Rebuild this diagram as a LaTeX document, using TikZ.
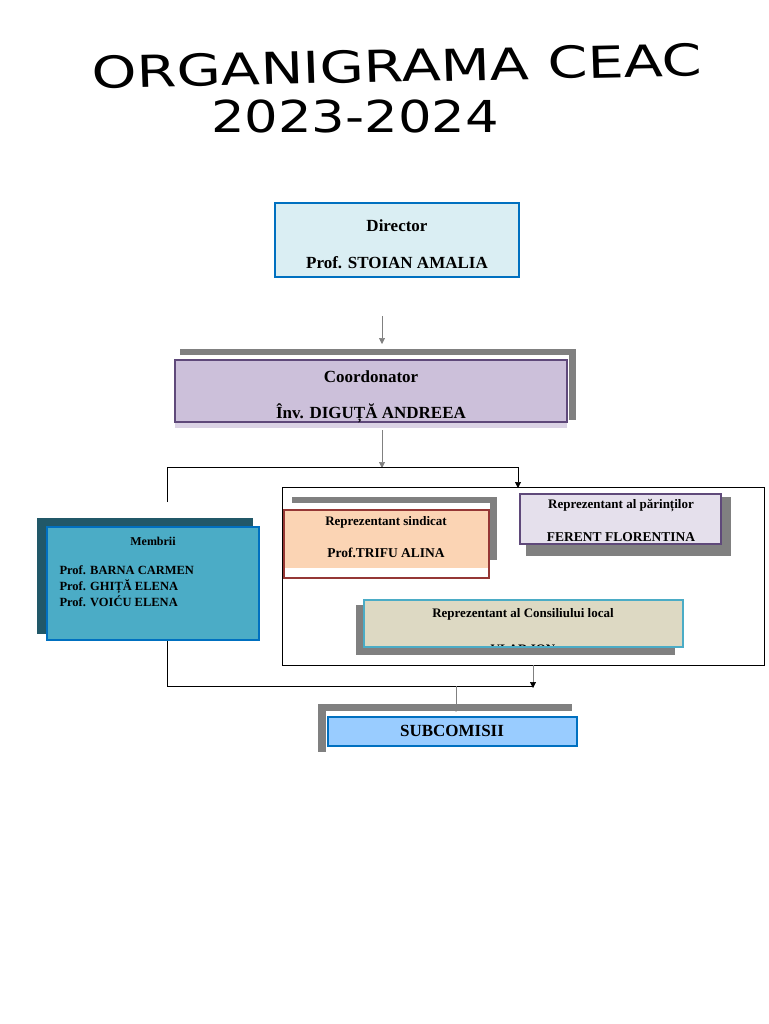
\documentclass[tikz,border=0pt]{standalone}
\usepackage{fontspec}
\setmainfont{Liberation Serif}
\newfontfamily\titlefont{DejaVu Sans}
\usetikzlibrary{arrows.meta}
\definecolor{dirfill}{HTML}{DAEEF3}
\definecolor{blueb}{HTML}{0070C0}
\definecolor{coofill}{HTML}{CCC0DA}
\definecolor{coob}{HTML}{5F497A}
\definecolor{sinfill}{HTML}{FBD4B4}
\definecolor{sinb}{HTML}{953735}
\definecolor{parfill}{HTML}{E5E0EC}
\definecolor{consfill}{HTML}{DDD9C3}
\definecolor{consb}{HTML}{4BACC6}
\definecolor{memfill}{HTML}{4BACC6}
\definecolor{memsh}{HTML}{215868}
\definecolor{subfill}{HTML}{99CCFF}
\definecolor{shgray}{HTML}{808080}
\tikzset{conn/.style={draw=black,line width=0.6pt},
arr/.style={-{Triangle[length=6pt,width=6pt]}},
sh/.style={fill=shgray,draw=none}}
\begin{document}
\begin{tikzpicture}[x=1pt,y=-1pt]
\useasboundingbox (0,0) rectangle (768,1024);
% title
\node[font=\titlefont\fontsize{44}{44}\selectfont,xscale=1.3,rotate=1.5] (t1) at (397,66) {ORGANIGRAMA CEAC};
\node[font=\titlefont\fontsize{44}{44}\selectfont,xscale=1.2] (t2) at (355,116) {2023-2024};
% director
\draw[blueb,line width=2pt,fill=dirfill] (275,203) rectangle (519,277);
\node[font=\bfseries\fontsize{17}{17}\selectfont] (dir) at (397,226) {Director};
\node[font=\bfseries\fontsize{17}{17}\selectfont] (dir2) at (397,263) {Prof. STOIAN AMALIA};
\coordinate (a1) at (382,316); \coordinate (a2) at (382,344);
\draw[conn,shgray,arr] (a1) -- (a2);
% coordonator
\fill[sh] (180,349) rectangle (576,355);
\fill[sh] (569,349) rectangle (576,420);
\fill[coofill!70] (175,420) rectangle (567,428);
\draw[coob,line width=2pt,fill=coofill] (175,360) rectangle (567,422);
\node[font=\bfseries\fontsize{17}{17}\selectfont] (co1) at (371,377) {Coordonator};
\node[font=\bfseries\fontsize{17}{17}\selectfont] (co2) at (371,413) {Înv. DIGUȚĂ ANDREEA};
\coordinate (b1) at (382,430); \coordinate (b2) at (382,468);
\draw[conn,shgray,arr] (b1) -- (b2);
\coordinate (h1) at (167,502); \coordinate (h2) at (167,467); \coordinate (h3) at (518,467); \coordinate (h4) at (518,488);
\draw[conn] (h1) -- (h2) -- (h3);
\draw[conn,arr] (h3) -- (h4);
% frame
\draw[line width=0.8pt] (282,487) rectangle (764,665);
% sindicat
\fill[sh] (292,497) rectangle (497,503);
\fill[sh] (490,497) rectangle (497,560);
\fill[white] (284,510) rectangle (489,578);
\fill[sinfill] (284,510) rectangle (489,568);
\draw[sinb,line width=2pt] (284,510) rectangle (489,578);
\node[font=\bfseries\fontsize{13}{13}\selectfont] (s1) at (386,522) {Reprezentant sindicat};
\node[font=\bfseries\fontsize{13.5}{13.5}\selectfont] (s2) at (386,553) {Prof.TRIFU ALINA};
% parinti
\fill[sh] (722,497) rectangle (731,556);
\fill[sh] (526,544) rectangle (731,556);
\draw[coob,line width=2pt,fill=parfill] (520,494) rectangle (721,544);
\node[font=\bfseries\fontsize{13}{13}\selectfont] (p1) at (621,506) {Reprezentant al părinților};
\node[font=\bfseries\fontsize{13.5}{13.5}\selectfont] (p2) at (621,537) {FERENT FLORENTINA};
% consiliu
\fill[sh] (356,605) rectangle (364,655);
\fill[sh] (356,647) rectangle (675,655);
\draw[consb,line width=2pt,fill=consfill] (364,600) rectangle (683,647);
\node[font=\bfseries\fontsize{13}{13}\selectfont] (c1) at (523,614) {Reprezentant al Consiliului local};
\begin{scope}
\clip (364,600) rectangle (683,645);
\node[font=\bfseries\fontsize{13}{13}\selectfont] (c2) at (523,649) {VLAD ION};
\end{scope}
% membrii
\fill[memsh] (37,518) rectangle (253,634);
\draw[blueb,line width=2.5pt,fill=memfill] (47,527) rectangle (259,640);
\node[font=\bfseries\fontsize{12}{12}\selectfont] (m0) at (153,541) {Membrii};
\node[font=\bfseries\fontsize{12.5}{16}\selectfont,align=left,anchor=north west] (m1) at (56,562) {Prof. BARNA CARMEN\\Prof. GHIȚĂ ELENA\\Prof. VOIĆU ELENA};
% lower connectors
\coordinate (l1) at (167,641); \coordinate (l2) at (167,686); \coordinate (l3) at (533,686);
\coordinate (l4) at (533,665);
\draw[conn] (l1) -- (l2) -- (l3);
\draw[conn,shgray] (l4) -- (l3);
\draw[conn,arr] (l3) -- ++(0,2);
\coordinate (d1) at (456,686); \coordinate (d2) at (456,712);
\draw[conn,shgray,arr] (d1) -- (d2);
% subcomisii
\fill[sh] (318,704) rectangle (572,711);
\fill[sh] (318,704) rectangle (326,752);
\draw[blueb,line width=2pt,fill=subfill] (328,717) rectangle (577,746);
\node[font=\bfseries\fontsize{17}{17}\selectfont] (sub) at (452,731) {SUBCOMISII};
\end{tikzpicture}
\end{document}
